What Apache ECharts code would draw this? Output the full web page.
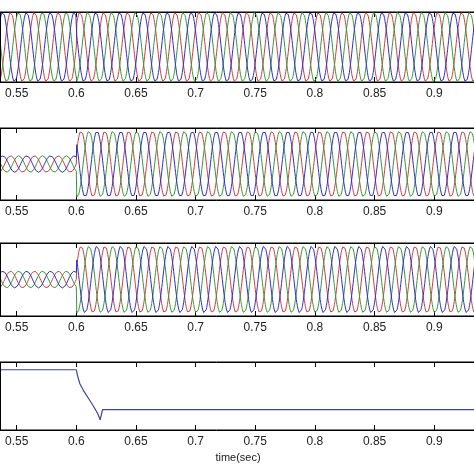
<!DOCTYPE html><html><head><meta charset="utf-8">
<script src="https://cdn.jsdelivr.net/npm/echarts@6/dist/echarts.min.js"></script>
<style>html,body{margin:0;padding:0;background:#fff;overflow:hidden}#c{width:519px;height:474px;margin-left:-43px}</style></head>
<body><div id="c"></div><script>
const xTicks = [0.55,0.6,0.65,0.7,0.75,0.8,0.85,0.9];
const faultTime = 0.6;
const freqHz = 50;
const preAmp = [1.0, 0.23, 0.23];
const postAmp = [1.0, 0.92, 0.92];
const phaseJump = [0.6, 0.3, 0.3];
const phaseColors = ['#c84040','#3a963a','#3030c0'];
const p4Times = [0.5,0.6,0.601,0.603,0.606,0.61,0.614,0.618,0.620,0.6205,0.622,0.935];
const p4Vals  = [0.886,0.886,0.80,0.68,0.58,0.47,0.36,0.24,0.15,0.14,0.30,0.30];

const X0=0.5, X1=0.935, dt=0.0004;
function wave(p,k){const d=[];for(let t=X0;t<=X1+1e-9;t+=dt){const post=t>=faultTime;const a=post?postAmp[p]:preAmp[p];const ph=post?phaseJump[p]:0;d.push([t,a*Math.sin(2*Math.PI*freqHz*t-k*2*Math.PI/3+ph)]);}return d;}
const tops=[12,128,243,362], hs=[70,72,73,68];
const grids=[],xA=[],yA=[],series=[],gfx=[];
const line={show:true,onZero:false,lineStyle:{color:'#000',width:1}};
const tick={show:true,inside:true,length:5,lineStyle:{color:'#000',width:1}};
for(let i=0;i<4;i++){
 grids.push({left:0,right:0,top:tops[i],height:hs[i],show:true,borderColor:'#000',borderWidth:1});
 gfx.push({type:'line',shape:{x1:43.5,y1:tops[i],x2:43.5,y2:tops[i]+hs[i]},style:{stroke:'#000',lineWidth:1},z:100});
 xA.push({gridIndex:i,type:'value',position:'bottom',min:X0,max:X1,interval:0.05,
  axisLine:line,splitLine:{show:false},
  axisLabel:{show:true,color:'#222',fontFamily:'Liberation Sans',fontSize:12,margin:6,showMinLabel:false,showMaxLabel:false,
   formatter:v=>xTicks.some(x=>Math.abs(x-v)<1e-6)?String(+v.toFixed(2)):''},
  axisTick:tick,
  name:i===3?'time(sec)':'',nameLocation:'middle',nameGap:22,nameTextStyle:{color:'#222',fontSize:11,fontFamily:'Liberation Sans',padding:[0,0,0,43]}});
 xA.push({gridIndex:i,type:'value',position:'top',min:X0,max:X1,interval:0.05,axisLine:line,splitLine:{show:false},
  axisLabel:{show:false},axisTick:tick});
 yA.push({gridIndex:i,type:'value',min:i===3?0:-1,max:1,axisLabel:{show:false},axisTick:{show:false},axisLine:{show:false},splitLine:{show:false}});
}
for(let i=0;i<3;i++)for(let k=0;k<3;k++)series.push({type:'line',xAxisIndex:2*i,yAxisIndex:i,data:wave(i,k),showSymbol:false,lineStyle:{width:1,color:phaseColors[k]},silent:true,animation:false});
series.push({type:'line',xAxisIndex:6,yAxisIndex:3,data:p4Times.map((t,j)=>[t,p4Vals[j]]),showSymbol:false,lineStyle:{width:1.2,color:'#4040a0'},animation:false});
echarts.init(document.getElementById('c')).setOption({animation:false,grid:grids,xAxis:xA,yAxis:yA,series,graphic:gfx});
</script></body></html>
